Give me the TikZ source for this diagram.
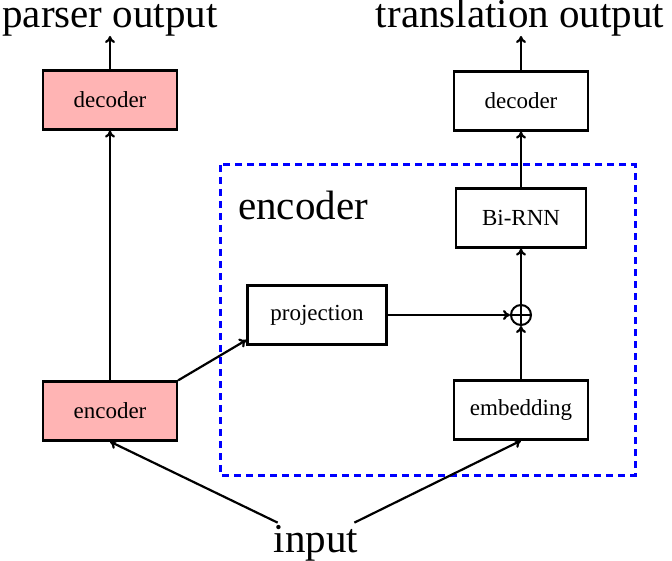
\documentclass[tikz,border=0pt]{standalone}
\usepackage{fontspec}
\setmainfont{Liberation Serif}
\usetikzlibrary{arrows.meta}
\definecolor{pk}{RGB}{255,180,180}
\begin{document}
\begin{tikzpicture}[x=1pt,y=-1pt,
  box/.style={draw,line width=2.2pt,minimum width=134pt,minimum height=59pt,font=\fontsize{23}{26}\selectfont},
  big/.style={font=\fontsize{41}{46}\selectfont,inner sep=0pt},
  ar/.style={line width=2.2pt,-{To[length=7pt,width=10pt]}}]
\useasboundingbox (0,0) rectangle (672,561);
\draw[blue,dashed,line width=3pt,dash pattern=on 7pt off 5pt] (220,165) rectangle (635,475);
\node[box,fill=pk] (ldec) at (110,100) {decoder};
\node[box,fill=pk] (lenc) at (110,411) {encoder};
\node[box] (rdec) at (521,101) {decoder};
\node[box,minimum width=130pt] (rnn) at (521,218) {Bi-RNN};
\node[box,minimum width=139pt] (proj) at (317,315) {projection};
\node[box] (emb) at (521,410) {embedding};
\node[circle,draw,line width=2pt,minimum size=20pt,inner sep=0pt,path picture={\draw[line width=2pt] (path picture bounding box.north) -- (path picture bounding box.south) (path picture bounding box.west) -- (path picture bounding box.east);}] (plus) at (521,315) {};
\node[big,anchor=base] (pout) at (110,28) {parser output};
\node[big,anchor=base] (tout) at (520,28) {translation output};
\node[big,anchor=base] (enc) at (303,220) {encoder};
\node[big,anchor=base] (in) at (316,552) {input};
\draw[ar] (ldec.north) -- (110,36);
\draw[ar] (rdec.north) -- (521,36);
\draw[ar] (lenc.north) -- (ldec.south);
\draw[ar] (rnn.north) -- (rdec.south);
\draw[ar] (plus.north) -- (rnn.south);
\draw[ar] (emb.north) -- (plus.south);
\draw[ar] (proj.east) -- (plus.west);
\draw[ar] (lenc.north east) -- (proj.south west |- 0,340);
\draw[ar] (in.north west) ++(4,-2) coordinate (a) -- (lenc.south);
\draw[ar] (in.north east) ++(-4,-2) coordinate (b) -- (emb.south);
\end{tikzpicture}
\end{document}
